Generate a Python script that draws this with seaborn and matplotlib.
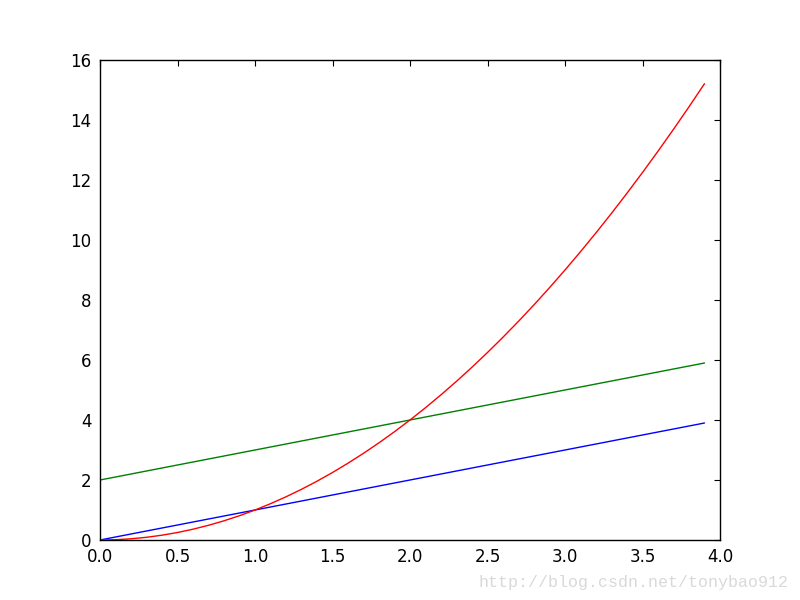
"""
Three lines: y = x, y = x + 2, y = x^2 (classic matplotlib look)
"""

import matplotlib
matplotlib.use('Agg')
import matplotlib.pyplot as plt
import seaborn as sns
import pandas as pd

# x samples, 0.0 .. 3.9
x_vals = [0.0, 0.1, 0.2, 0.3, 0.4, 0.5, 0.6, 0.7, 0.8, 0.9,
          1.0, 1.1, 1.2, 1.3, 1.4, 1.5, 1.6, 1.7, 1.8, 1.9,
          2.0, 2.1, 2.2, 2.3, 2.4, 2.5, 2.6, 2.7, 2.8, 2.9,
          3.0, 3.1, 3.2, 3.3, 3.4, 3.5, 3.6, 3.7, 3.8, 3.9]

# blue line
blue_vals = [0.0, 0.1, 0.2, 0.3, 0.4, 0.5, 0.6, 0.7, 0.8, 0.9,
             1.0, 1.1, 1.2, 1.3, 1.4, 1.5, 1.6, 1.7, 1.8, 1.9,
             2.0, 2.1, 2.2, 2.3, 2.4, 2.5, 2.6, 2.7, 2.8, 2.9,
             3.0, 3.1, 3.2, 3.3, 3.4, 3.5, 3.6, 3.7, 3.8, 3.9]

# green line
green_vals = [2.0, 2.1, 2.2, 2.3, 2.4, 2.5, 2.6, 2.7, 2.8, 2.9,
              3.0, 3.1, 3.2, 3.3, 3.4, 3.5, 3.6, 3.7, 3.8, 3.9,
              4.0, 4.1, 4.2, 4.3, 4.4, 4.5, 4.6, 4.7, 4.8, 4.9,
              5.0, 5.1, 5.2, 5.3, 5.4, 5.5, 5.6, 5.7, 5.8, 5.9]

# red curve
red_vals = [0.0, 0.01, 0.04, 0.09, 0.16, 0.25, 0.36, 0.49, 0.64, 0.81,
            1.0, 1.21, 1.44, 1.69, 1.96, 2.25, 2.56, 2.89, 3.24, 3.61,
            4.0, 4.41, 4.84, 5.29, 5.76, 6.25, 6.76, 7.29, 7.84, 8.41,
            9.0, 9.61, 10.24, 10.89, 11.56, 12.25, 12.96, 13.69, 14.44, 15.21]

x_ticks = [0.0, 0.5, 1.0, 1.5, 2.0, 2.5, 3.0, 3.5, 4.0]
y_ticks = [0, 2, 4, 6, 8, 10, 12, 14, 16]

watermark = 'http://blog.csdn.net/tonybao912'

df = pd.DataFrame({'x': x_vals, 'blue': blue_vals,
                   'green': green_vals, 'red': red_vals})

sns.set_style('white')
plt.rcParams['font.family'] = ['DejaVu Sans']

fig = plt.figure(figsize=(8, 6), dpi=100, facecolor='white')
ax = fig.add_axes([0.125, 0.1, 0.775, 0.8])

sns.lineplot(data=df, x='x', y='blue', color='blue', linewidth=1, ax=ax)
sns.lineplot(data=df, x='x', y='green', color='green', linewidth=1, ax=ax)
sns.lineplot(data=df, x='x', y='red', color='red', linewidth=1, ax=ax)

ax.set_xlim(0, 4)
ax.set_ylim(0, 16)
ax.set_xticks(x_ticks)
ax.set_yticks(y_ticks)
ax.set_xticklabels([f'{t:.1f}' for t in x_ticks])
ax.set_yticklabels([str(t) for t in y_ticks])
ax.set_xlabel('')
ax.set_ylabel('')
ax.tick_params(direction='in', length=4, width=0.8, top=True, right=True,
               labelsize=12, colors='black', pad=6)
for spine in ax.spines.values():
    spine.set_visible(True)
    spine.set_color('black')
    spine.set_linewidth(1)

fig.text(0.985, 0.022, watermark, ha='right', va='baseline',
         fontsize=12, color='#d9d9d9', family='Liberation Mono')

fig.savefig('out.png', dpi=100, facecolor='white')
